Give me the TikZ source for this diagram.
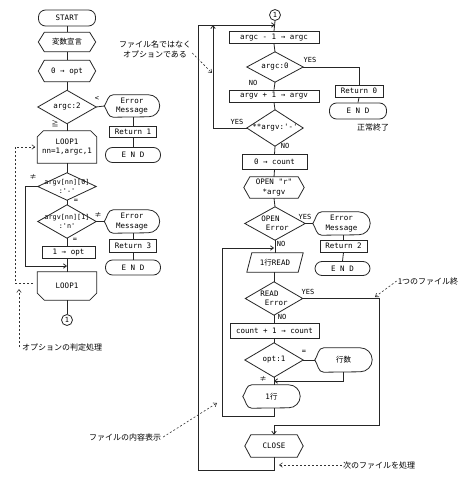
\documentclass[tikz,border=0pt]{standalone}
\usepackage{fontspec}
\setmonofont{DejaVu Sans Mono}
\newfontfamily\cjk{Noto Sans CJK JP}
\usetikzlibrary{calc,arrows.meta}
\tikzset{
  ln/.style={line width=0.8pt, draw=black!85},
  arr/.style={ln,-{Straight Barb[length=3pt,width=4.5pt]}},
  dsh/.style={line width=0.6pt,draw=black!80,dash pattern=on 2pt off 2pt,-{Straight Barb[length=3pt,width=4.5pt]}},
  bx/.style={inner sep=0pt, align=center, font=\ttfamily\fontsize{7.5}{9.5}\selectfont},
  sbx/.style={bx, font=\ttfamily\fontsize{6.8}{8.5}\selectfont},
  proc/.style={bx, draw=black!85, line width=0.8pt},
  term/.style={bx, draw=black!85, line width=0.8pt, rounded corners=7pt},
  conn/.style={draw=black!85, line width=0.8pt, circle, minimum size=11pt, inner sep=0pt, font=\ttfamily\fontsize{7}{8}\selectfont},
  lbl/.style={inner sep=0pt, font=\ttfamily\fontsize{7}{8}\selectfont},
  jlbl/.style={inner sep=0pt, align=center, font=\cjk\fontsize{8}{10}\selectfont},
}
\newcommand\shpDia[1]{\draw[ln] (#1.west)--(#1.north)--(#1.east)--(#1.south)--cycle;}
\newcommand\shpHex[2]{\draw[ln] (#1.west) -- ($(#1.north west)+(#2,0)$) -- ($(#1.north east)+(-#2,0)$) -- (#1.east) -- ($(#1.south east)+(-#2,0)$) -- ($(#1.south west)+(#2,0)$) -- cycle;}
\newcommand\shpDisp[2]{\draw[ln] ($(#1.south west)+(9,0)$) to[out=180,in=-55] (#1.west) to[out=55,in=180] ($(#1.north west)+(9,0)$) -- ($(#1.north east)+(-#2,0)$) arc[start angle=90,end angle=-90,radius=#2pt] -- cycle;}
\newcommand\shpLoopS[2]{\draw[ln] (#1.south west) -- ($(#1.north west)+(0,-#2)$) -- ($(#1.north west)+(#2,0)$) -- ($(#1.north east)+(-#2,0)$) -- ($(#1.north east)+(0,-#2)$) -- (#1.south east) -- cycle;}
\newcommand\shpLoopE[2]{\draw[ln] (#1.north west) -- ($(#1.south west)+(0,#2)$) -- ($(#1.south west)+(#2,0)$) -- ($(#1.south east)+(-#2,0)$) -- ($(#1.south east)+(0,#2)$) -- (#1.north east) -- cycle;}
\newcommand\shpPara[2]{\draw[ln] (#1.south west) -- ($(#1.north west)+(#2,0)$) -- (#1.north east) -- ($(#1.south east)+(-#2,0)$) -- cycle;}
\begin{document}
\begin{tikzpicture}[x=1pt,y=1pt]
\useasboundingbox[fill=white] (0,0) rectangle (474,-481);

% ---------------- left column ----------------
\node[term, minimum width=57pt, minimum height=16pt] (start) at (67,-18) {START};
\node[bx, minimum width=57pt, minimum height=19pt] (decl) at (67,-42) {\cjk 変数宣言}; \shpHex{decl}{6}
\node[bx, minimum width=57pt, minimum height=21pt] (zopt) at (67,-71) {0 → opt}; \shpHex{zopt}{6}
\node[bx, minimum width=58pt, minimum height=33pt] (d1) at (67,-107) {argc:2}; \shpDia{d1}
\node[bx, minimum width=55pt, minimum height=22pt] (em1) at (132,-106) {Error\\Message}; \shpDisp{em1}{11}
\node[proc, minimum width=47pt, minimum height=11pt] (r1) at (133,-131.5) {Return 1};
\node[term, minimum width=55pt, minimum height=15pt] (e1) at (133,-155) {E N D};
\node[bx, minimum width=59pt, minimum height=32pt] (lp1) at (67,-147) {LOOP1\\nn=1,argc,1}; \shpLoopS{lp1}{6}
\node[sbx, minimum width=58pt, minimum height=27pt] (d2) at (67,-186.5) {argv[nn][0]\\:'-'}; \shpDia{d2}
\node[sbx, minimum width=58pt, minimum height=33pt] (d3) at (67,-221.5) {argv[nn][1]\\:'n'}; \shpDia{d3}
\node[bx, minimum width=55pt, minimum height=23pt] (em2) at (132,-221.5) {Error\\Message}; \shpDisp{em2}{11.5}
\node[proc, minimum width=47pt, minimum height=13pt] (r3) at (133,-245.5) {Return 3};
\node[term, minimum width=55pt, minimum height=15pt] (e3) at (133,-267.5) {E N D};
\node[proc, minimum width=53pt, minimum height=12pt] (opt1) at (68.5,-252.5) {1 → opt};
\node[bx, minimum width=59pt, minimum height=28pt] (lp1e) at (67,-286) {LOOP1}; \shpLoopE{lp1e}{7}
\node[conn] (c1) at (67,-320) {1};
\coordinate (j1) at (67,-266);

\draw[ln] (start.south) -- (decl.north);
\draw[ln] (decl.south) -- (zopt.north);
\draw[ln] (zopt.south) -- (d1.north);
\draw[ln] (d1.east) -- (em1.west);
\draw[ln] (em1.south -| r1.north) -- (r1.north);
\draw[ln] (r1.south) -- (e1.north);
\draw[ln] (d1.south) -- (lp1.north);
\draw[ln] (lp1.south) -- (d2.north);
\draw[ln] (d2.south) -- (d3.north);
\draw[ln] (d3.east) -- (em2.west);
\draw[ln] (em2.south -| r3.north) -- (r3.north);
\draw[ln] (r3.south) -- (e3.north);
\draw[ln] (d3.south) -- (d3.south |- opt1.north);
\draw[ln] (d3.south |- opt1.south) -- (lp1e.north);
\draw[arr] (d2.west) -- ++(-12,0) |- (j1);
\draw[ln] (lp1e.south) -- (c1.north);

\node[lbl] at (97,-99) {<};
\node[lbl] at (55,-124) {\cjk ≧};
\node[lbl] at (33,-177) {\cjk ≠};
\node[lbl] at (76,-201) {=};
\node[lbl] at (98,-215) {\cjk ≠};
\node[lbl] at (75,-240) {=};

% bracket for option handling
\coordinate (bb) at (15,-283);
\coordinate (bt) at (15,-147);
\coordinate (bbr) at (33,-283);
\draw[dsh] (bbr) -- (bb) -- (bt) -- ($(lp1.west)+(-2,0)$);
\node[jlbl, anchor=west] (n5) at (22,-347) {オプションの判定処理};
\coordinate (t5) at (19,-289);
\draw[dsh] (n5.west -| t5) -- (t5);

% ---------------- right column ----------------
\node[conn] (c2) at (275,-15) {1};
\node[proc, minimum width=90pt, minimum height=12pt] (a1) at (274,-37.5) {argc - 1 → argc};
\node[bx, minimum width=56pt, minimum height=30pt] (d4) at (275,-67) {argc:0}; \shpDia{d4}
\node[proc, minimum width=48pt, minimum height=12pt] (r0) at (359,-91) {Return 0};
\node[term, minimum width=57pt, minimum height=16pt] (e0) at (358,-111) {E N D};
\node[jlbl] (ok) at (373,-127) {正常終了};
\node[proc, minimum width=90pt, minimum height=12pt] (a2) at (274,-96) {argv + 1 → argv};
\node[bx, minimum width=56pt, minimum height=36pt] (d5) at (275,-128) {**argv:'-'}; \shpDia{d5}
\node[proc, minimum width=65pt, minimum height=15pt] (cnt0) at (274.5,-162) {0 → count};
\node[bx, minimum width=60pt, minimum height=21pt] (open) at (274,-187.5) {OPEN "r"\\*argv}; \shpHex{open}{6}
\node[bx, minimum width=60pt, minimum height=33pt, align=left] (d6) at (275,-223.5) {OPEN\\~Error}; \shpDia{d6}
\node[bx, minimum width=57pt, minimum height=23pt] (em3) at (341.5,-223.5) {Error\\Message}; \shpDisp{em3}{11.5}
\node[proc, minimum width=47pt, minimum height=12pt] (r2) at (343.5,-246) {Return 2};
\node[term, minimum width=55pt, minimum height=14pt] (e2) at (342.5,-268.5) {E N D};
\node[bx, minimum width=56pt, minimum height=19pt] (rd) at (275,-262.5) {1{\cjk 行}READ}; \shpPara{rd}{5}
\node[bx, minimum width=57pt, minimum height=33pt, align=left] (d7) at (274,-298.5) {READ\\~Error}; \shpDia{d7}
\node[proc, minimum width=89pt, minimum height=15pt] (cnt1) at (274.5,-330.5) {count + 1 → count};
\node[bx, minimum width=58pt, minimum height=34pt] (d8) at (274,-360) {opt:1}; \shpDia{d8}
\node[bx, minimum width=57pt, minimum height=24pt] (gyo) at (343.5,-360) {\cjk 行数}; \shpDisp{gyo}{12}
\node[bx, minimum width=57pt, minimum height=23pt] (one) at (271.5,-396.5) {1{\cjk 行}}; \shpDisp{one}{11.5}
\node[bx, minimum width=58pt, minimum height=22pt] (close) at (274,-446) {CLOSE}; \shpHex{close}{6}

\coordinate (jtop) at (275,-25);
\coordinate (jt) at (213,-25);
\coordinate (ot) at (198,-25);
\coordinate (ob) at (198,-470);
\coordinate (j2) at (274,-248);
\coordinate (lb) at (222,-416);
\coordinate (j3) at (274,-381);
\coordinate (rc) at (379,-425);

\draw[ln] (c2.south) -- (a1.north);
\draw[ln] (a1.south) -- (d4.north);
\draw[ln] (d4.east) -| (r0.north);
\draw[ln] (r0.south) -- (e0.north);
\draw[ln] (d4.south) -- (a2.north);
\draw[ln] (a2.south) -- (d5.north);
\draw[ln] (d5.south) -- (cnt0.north);
\draw[arr] (d5.west) -| (jt);
\draw[arr] (close.south) |- (ob) -- (ot) -- (jtop);
\draw[ln] (cnt0.south) -- (open.north);
\draw[ln] (open.south) -- (d6.north);
\draw[ln] (d6.east) -- (em3.west);
\draw[ln] (em3.south -| r2.north) -- (r2.north);
\draw[ln] (r2.south) -- (e2.north);
\draw[ln] (d6.south) -- (rd.north -| d6.south);
\draw[ln] (rd.south -| d7.north) -- (d7.north);
\draw[ln] (d7.south) -- (cnt1.north -| d7.south);
\draw[ln] (cnt1.south -| d8.north) -- (d8.north);
\draw[ln] (d8.east) -- (gyo.west);
\draw[arr] (gyo.south) |- (j3);
\draw[ln] (d8.south) -- (one.north -| d8.south);
\draw[arr] (one.south -| d8.south) |- (lb) |- (j2);
\draw[arr] (d7.east) -| (rc) -| (close.north);

\node[lbl] at (310,-60) {YES};
\node[lbl] at (253,-83) {NO};
\node[lbl] at (237,-122) {YES};
\node[lbl] at (285,-146) {NO};
\node[lbl] at (305,-217) {YES};
\node[lbl] at (281,-244) {NO};
\node[lbl] at (308,-292) {YES};
\node[lbl] at (282,-317) {NO};
\node[lbl] at (304,-352) {=};
\node[lbl] at (263,-379) {\cjk ≠};

% annotations
\node[jlbl] (n1) at (155,-49) {ファイル名ではなく\\オプションである};
\coordinate (t1) at (212,-73);
\draw[dsh] ($(n1.east)+(1,-4)$) -- (t1);
\node[jlbl] (n2) at (125,-437) {ファイルの内容表示};
\coordinate (t2) at (217,-403);
\draw[dsh] ($(n2.east)+(2,0)$) -- (t2);
\node[jlbl] (n3) at (428,-281) {1つのファイル終};
\coordinate (t3) at (375,-297);
\draw[dsh] ($(n3.west)+(-1,0)$) -- (t3);
\node[jlbl] (n4) at (379,-465) {次のファイルを処理};
\coordinate (t4) at (279,-465);
\draw[dsh] ($(n4.west)+(-1,0)$) -- (t4);
\end{tikzpicture}
\end{document}
